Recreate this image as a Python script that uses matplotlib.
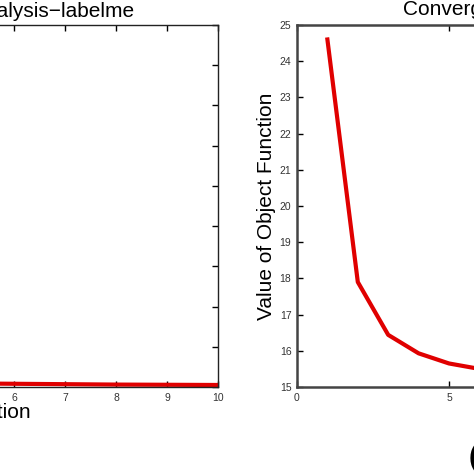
import matplotlib
matplotlib.use('Agg')
import matplotlib.pyplot as plt

plt.rcParams['font.family'] = ['Liberation Sans', 'DejaVu Sans']

# left panel (only its right end is visible)
left_iter = [1, 2, 3, 4, 5, 6, 7, 8, 9, 10]
left_obj = [2.6, 0.35, 0.15, 0.11, 0.09, 0.08, 0.07, 0.06, 0.055, 0.05]

# right panel
right_iter = [1, 2, 3, 4, 5, 6, 7, 8, 9, 10]
right_obj = [24.6, 17.9, 16.44, 15.93, 15.65, 15.5, 15.42, 15.37, 15.33, 15.3]

W = 474.0
fig = plt.figure(figsize=(4.74, 4.74), dpi=100)

# axes deliberately run off the canvas, like the cropped original
ax1 = fig.add_axes([-241 / W, 87 / W, 459 / W, 362 / W])
ax2 = fig.add_axes([297 / W, 87 / W, 456 / W, 362 / W])

red = '#e00000'

ax1.plot(left_iter, left_obj, color=red, linewidth=3)
ax1.set_xlim(1, 10)
ax1.set_ylim(0, 9)
ax1.set_xticks(range(1, 11))
ax1.set_yticks(range(0, 10))
ax1.set_title('Convergence Analysis\u2212labelme', fontsize=15, pad=6)
ax1.set_xlabel('Iteration', fontsize=15)
ax1.xaxis.set_label_coords(0.509, -0.045)

ax2.plot(right_iter, right_obj, color=red, linewidth=3)
ax2.set_xlim(0, 15)
ax2.set_ylim(15, 25)
ax2.set_xticks([0, 5, 10, 15])
ax2.set_yticks(range(15, 26))
ax2.set_ylabel('Value of Object Function', fontsize=15, labelpad=3)
ax2.set_xlabel('Iteration', fontsize=15, labelpad=1)

for ax, spine_col, spine_w in ((ax1, '#222222', 1.0), (ax2, '#444444', 1.8)):
    for s in ax.spines.values():
        s.set_color(spine_col)
        s.set_linewidth(spine_w)
    ax.tick_params(direction='in', top=True, right=True, length=4,
                   width=1, labelsize=7.5, labelcolor='#333333', pad=4)

fig.text(403 / W, 1 - 15 / W, 'Convergence Analysis\u2212MSRC', fontsize=15,
         ha='left', va='baseline')
fig.text(469 / W, 1 - 458 / W, '(b)', fontsize=20, fontweight='bold',
         ha='left', va='center')

fig.savefig('out.png', dpi=100)
